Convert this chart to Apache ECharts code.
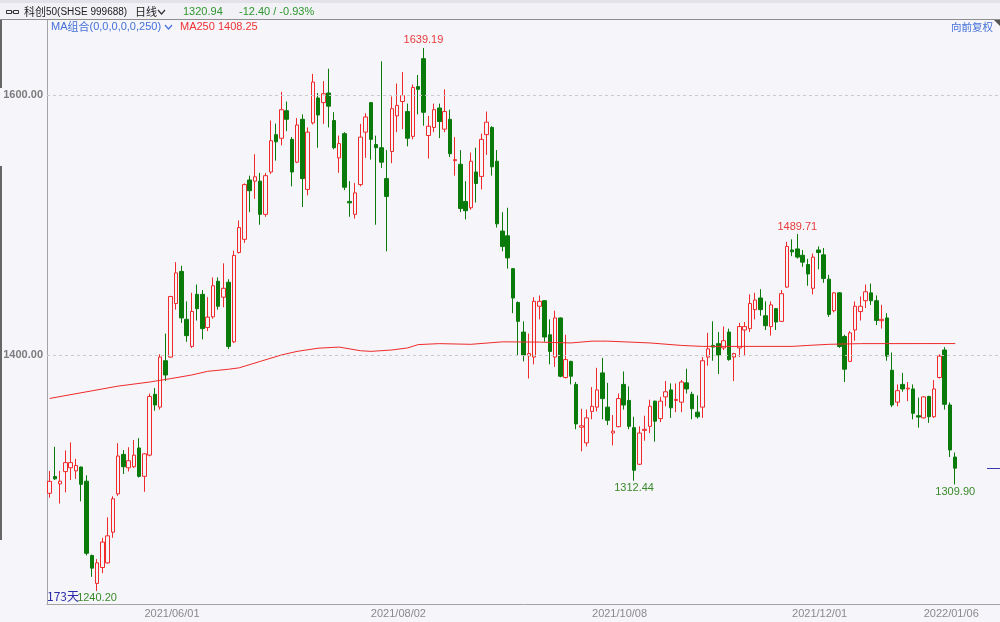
<!DOCTYPE html>
<html>
<head>
<meta charset="utf-8">
<title>科创50 日线</title>
<script src="https://cdn.jsdelivr.net/npm/echarts@6/dist/echarts.min.js"></script>
<style>
  html, body { margin: 0; padding: 0; background: #f5f5fa; }
  #chart { width: 1000px; height: 622px; }
</style>
</head>
<body>
<div id="chart"></div>
<script>
// trading days shown (173)
var dates = [
  '2021/04/23','2021/04/26','2021/04/27','2021/04/28','2021/04/29','2021/04/30',
  '2021/05/06','2021/05/07','2021/05/10','2021/05/11','2021/05/12','2021/05/13','2021/05/14',
  '2021/05/17','2021/05/18','2021/05/19','2021/05/20','2021/05/21','2021/05/24','2021/05/25',
  '2021/05/26','2021/05/27','2021/05/28','2021/05/31',
  '2021/06/01','2021/06/02','2021/06/03','2021/06/04','2021/06/07','2021/06/08','2021/06/09',
  '2021/06/10','2021/06/11','2021/06/15','2021/06/16','2021/06/17','2021/06/18','2021/06/21',
  '2021/06/22','2021/06/23','2021/06/24','2021/06/25','2021/06/28','2021/06/29','2021/06/30',
  '2021/07/01','2021/07/02','2021/07/05','2021/07/06','2021/07/07','2021/07/08','2021/07/09',
  '2021/07/12','2021/07/13','2021/07/14','2021/07/15','2021/07/16','2021/07/19','2021/07/20',
  '2021/07/21','2021/07/22','2021/07/23','2021/07/26','2021/07/27','2021/07/28','2021/07/29',
  '2021/07/30',
  '2021/08/02','2021/08/03','2021/08/04','2021/08/05','2021/08/06','2021/08/09','2021/08/10',
  '2021/08/11','2021/08/12','2021/08/13','2021/08/16','2021/08/17','2021/08/18','2021/08/19',
  '2021/08/20','2021/08/23','2021/08/24','2021/08/25','2021/08/26','2021/08/27','2021/08/30',
  '2021/08/31',
  '2021/09/01','2021/09/02','2021/09/03','2021/09/06','2021/09/07','2021/09/08','2021/09/09',
  '2021/09/10','2021/09/13','2021/09/14','2021/09/15','2021/09/16','2021/09/17','2021/09/22',
  '2021/09/23','2021/09/24','2021/09/27','2021/09/28','2021/09/29','2021/09/30',
  '2021/10/08','2021/10/11','2021/10/12','2021/10/13','2021/10/14','2021/10/15','2021/10/18',
  '2021/10/19','2021/10/20','2021/10/21','2021/10/22','2021/10/25','2021/10/26','2021/10/27',
  '2021/10/28','2021/10/29',
  '2021/11/01','2021/11/02','2021/11/03','2021/11/04','2021/11/05','2021/11/08','2021/11/09',
  '2021/11/10','2021/11/11','2021/11/12','2021/11/15','2021/11/16','2021/11/17','2021/11/18',
  '2021/11/19','2021/11/22','2021/11/23','2021/11/24','2021/11/25','2021/11/26','2021/11/29',
  '2021/11/30',
  '2021/12/01','2021/12/02','2021/12/03','2021/12/06','2021/12/07','2021/12/08','2021/12/09',
  '2021/12/10','2021/12/13','2021/12/14','2021/12/15','2021/12/16','2021/12/17','2021/12/20',
  '2021/12/21','2021/12/22','2021/12/23','2021/12/24','2021/12/27','2021/12/28','2021/12/29',
  '2021/12/30','2021/12/31',
  '2022/01/04','2022/01/05','2022/01/06'
];

// [open, close, low, high]
var kline = [
  [1304.0,1312.0,1301.0,1319.0],[1315.3,1313.7,1313.0,1335.5],[1310.3,1312.1,1297.1,1319.1],
  [1318.6,1324.7,1304.6,1333.0],[1321.2,1324.7,1312.9,1338.6],[1319.1,1322.7,1313.7,1327.3],
  [1321.7,1310.0,1298.6,1322.0],[1312.1,1264.4,1263.0,1316.1],[1263.0,1254.8,1249.2,1263.5],
  [1245.0,1258.2,1240.2,1260.6],[1255.2,1271.7,1251.6,1274.5],[1258.2,1275.8,1257.7,1288.0],
  [1278.2,1300.3,1274.5,1302.0],[1303.6,1329.2,1302.3,1338.0],[1330.3,1321.9,1317.0,1333.3],
  [1321.2,1326.0,1318.7,1335.2],[1321.9,1329.8,1321.0,1340.2],[1334.7,1315.4,1314.6,1341.4],
  [1315.4,1330.7,1305.0,1331.2],[1329.8,1370.5,1329.0,1372.5],[1372.0,1364.5,1360.5,1376.4],
  [1363.0,1398.5,1361.3,1400.5],[1395.9,1385.7,1381.4,1415.5],[1398.5,1442.7,1398.0,1443.2],
  [1437.5,1460.3,1433.0,1468.4],[1461.4,1426.9,1423.3,1465.7],[1425.9,1414.0,1409.5,1439.1],
  [1406.2,1431.7,1405.1,1445.4],[1444.3,1433.7,1425.0,1451.6],[1444.3,1419.1,1411.3,1447.5],
  [1419.9,1427.5,1417.3,1442.2],[1427.7,1450.7,1426.4,1456.9],[1454.0,1435.5,1433.0,1456.9],
  [1442.2,1448.8,1434.8,1467.5],[1453.3,1406.2,1404.4,1455.6],[1409.5,1473.5,1408.7,1477.1],
  [1475.7,1494.7,1474.9,1500.2],[1485.7,1528.1,1483.0,1529.0],[1531.7,1523.3,1506.6,1535.1],
  [1530.8,1534.2,1516.9,1552.1],[1530.8,1504.9,1496.9,1537.3],[1504.9,1535.1,1503.0,1537.3],
  [1538.0,1562.9,1536.5,1579.2],[1567.8,1562.0,1547.0,1576.7],[1564.9,1588.0,1559.2,1602.6],
  [1587.2,1580.2,1570.6,1594.7],[1564.0,1538.0,1526.7,1565.8],[1545.8,1575.6,1545.0,1581.2],
  [1580.2,1532.8,1510.6,1584.2],[1524.3,1569.8,1519.6,1573.6],[1577.3,1610.7,1576.0,1617.5],
  [1597.6,1583.7,1557.3,1601.7],[1593.8,1601.1,1576.5,1611.5],[1601.7,1590.9,1573.6,1621.8],
  [1579.2,1557.3,1556.0,1586.0],[1549.2,1560.6,1537.3,1567.0],[1568.6,1526.0,1523.8,1569.8],
  [1514.9,1513.8,1503.0,1530.8],[1504.9,1521.6,1501.6,1529.4],[1528.1,1565.8,1526.7,1576.5],
  [1569.8,1582.1,1549.2,1585.1],[1593.8,1564.0,1547.8,1594.0],[1559.8,1557.3,1496.9,1567.0],
  [1557.3,1545.8,1541.2,1628.0],[1532.8,1518.8,1476.6,1555.4],[1554.3,1588.8,1545.0,1598.8],
  [1583.0,1591.5,1569.8,1609.5],[1594.7,1599.6,1572.2,1619.0],[1586.5,1564.9,1558.4,1593.0],
  [1566.4,1606.2,1564.0,1608.7],[1607.0,1604.7,1584.2,1616.6],[1630.2,1585.9,1575.0,1639.19],
  [1567.1,1574.6,1548.6,1583.0],[1573.6,1588.0,1569.8,1593.0],[1589.4,1578.4,1565.0,1593.0],
  [1572.2,1586.5,1569.8,1604.7],[1580.2,1552.5,1549.8,1588.0],[1547.0,1547.8,1535.1,1565.8],
  [1544.1,1509.4,1506.6,1555.4],[1514.9,1507.7,1501.0,1530.8],[1510.0,1546.5,1508.5,1553.4],
  [1538.0,1528.9,1514.1,1557.3],[1534.5,1564.0,1524.3,1568.6],[1567.8,1577.9,1551.5,1586.5],
  [1573.6,1542.1,1535.1,1574.6],[1546.5,1497.6,1494.7,1555.4],[1492.0,1480.3,1476.6,1506.6],
  [1488.4,1471.6,1463.5,1510.0],[1463.5,1441.6,1430.4,1464.0],[1438.3,1424.4,1400.0,1439.0],
  [1416.6,1400.0,1395.4,1424.4],[1399.5,1401.0,1383.2,1415.5],[1398.5,1439.1,1393.3,1442.2],
  [1435.5,1439.1,1425.9,1443.5],[1439.6,1413.0,1409.5,1440.1],[1414.6,1402.6,1393.3,1425.9],
  [1398.5,1426.9,1391.5,1432.2],[1426.9,1384.8,1384.0,1427.3],[1383.9,1396.7,1383.2,1414.6],
  [1395.4,1384.8,1379.0,1395.9],[1379.0,1351.3,1347.6,1380.7],[1349.0,1350.0,1332.4,1361.8],
  [1338.2,1355.5,1335.8,1361.3],[1360.0,1363.6,1354.5,1377.1],[1363.0,1375.1,1360.0,1390.8],
  [1387.2,1369.0,1354.5,1397.9],[1363.0,1353.8,1350.5,1380.1],[1345.0,1346.3,1336.5,1357.5],
  [1349.4,1369.0,1349.0,1372.6],[1379.0,1364.5,1361.3,1388.2],[1367.7,1349.6,1347.6,1377.6],
  [1348.7,1319.5,1312.44,1356.3],[1323.6,1345.0,1323.1,1349.6],[1346.8,1347.6,1339.7,1357.0],
  [1349.6,1363.6,1345.0,1368.2],[1367.2,1353.2,1339.0,1367.5],[1355.0,1367.2,1352.5,1370.2],
  [1370.2,1373.8,1363.6,1381.4],[1375.1,1362.5,1355.5,1379.7],[1367.7,1368.4,1359.5,1379.7],
  [1366.5,1380.7,1359.5,1382.1],[1380.1,1375.8,1372.6,1390.2],[1372.0,1361.9,1354.5,1373.8],
  [1359.5,1356.3,1355.0,1371.2],[1363.0,1395.9,1355.5,1398.5],[1398.5,1404.4,1392.3,1416.0],
  [1406.9,1405.7,1395.9,1424.4],[1408.2,1400.0,1386.4,1416.6],[1405.1,1410.3,1403.6,1420.6],
  [1416.6,1396.7,1395.9,1419.1],[1398.5,1401.0,1381.4,1401.5],[1405.1,1420.6,1398.5,1423.3],
  [1418.1,1420.6,1399.2,1423.9],[1419.1,1437.5,1416.6,1444.3],[1433.0,1440.1,1425.9,1445.4],
  [1441.6,1433.0,1428.5,1448.1],[1428.5,1421.2,1418.1,1439.1],[1420.6,1436.5,1414.0,1439.1],
  [1433.7,1423.9,1418.1,1434.2],[1424.4,1444.8,1423.9,1447.5],[1449.7,1480.3,1449.0,1483.8],
  [1477.6,1476.2,1472.9,1485.7],[1478.4,1472.2,1471.1,1489.71],[1473.6,1468.4,1464.9,1477.6],
  [1466.6,1459.5,1450.7,1470.9],[1448.8,1472.2,1444.3,1474.9],[1477.6,1475.7,1463.0,1480.3],
  [1473.9,1456.2,1452.9,1479.1],[1455.6,1429.5,1427.7,1458.8],[1432.2,1445.4,1431.0,1446.0],
  [1445.4,1406.2,1405.1,1446.0],[1413.4,1389.8,1380.7,1414.6],[1395.4,1416.0,1394.9,1417.3],
  [1418.1,1435.5,1410.3,1439.1],[1431.6,1435.5,1425.0,1442.7],[1439.6,1446.2,1434.2,1451.6],
  [1445.4,1439.6,1436.5,1452.3],[1439.6,1425.1,1421.7,1443.5],[1424.9,1425.9,1419.1,1436.5],
  [1426.9,1399.2,1395.9,1430.4],[1389.1,1364.5,1363.0,1401.8],[1366.5,1374.6,1363.6,1379.0],
  [1379.0,1375.8,1373.8,1387.2],[1375.8,1376.4,1367.2,1380.7],[1375.8,1358.7,1354.5,1379.0],
  [1357.0,1356.1,1348.7,1369.7],[1355.5,1370.2,1355.0,1370.5],[1370.5,1356.3,1352.0,1371.0],
  [1356.3,1375.8,1355.5,1382.1],[1383.9,1399.2,1383.2,1400.5],[1403.6,1365.0,1361.3,1405.7],
  [1364.5,1333.34,1328.5,1366.3],[1328.5,1320.94,1309.9,1331.6]
];

// MA250 read at sample days: [day index, value]
var ma250 = [
  [0,1369.1],[13,1377.8],[19,1380.7],[23,1383.1],[27,1385.7],[30,1388.3],[34,1389.8],
  [36,1390.8],[40,1395.4],[44,1400.0],[47,1402.6],[51,1404.9],[55,1405.7],[59,1403.1],
  [61,1402.6],[65,1403.6],[68,1405.1],[70,1407.5],[74,1408.2],[80,1407.7],[86,1409.5],
  [93,1409.3],[99,1408.7],[103,1410.0],[106,1410.0],[114,1408.7],[120,1406.9],[124,1406.2],
  [131,1406.2],[141,1406.2],[144,1406.9],[148,1407.7],[154,1408.2],[172,1408.25]
];

var yTicks = [1400, 1600];
var labelDates = ['2021/06/01', '2021/08/02', '2021/10/08', '2021/12/01', '2022/01/06'];
var peakDays = [71, 142];
var troughDays = [9, 111, 172];

var RED = '#f02a2a', GREEN = '#0a7a0a', BLUE = '#4470d8';

var myChart = echarts.init(document.getElementById('chart'));

var marks = [];
peakDays.forEach(function(i) {
  marks.push({ coord: [i, kline[i][3]], value: kline[i][3],
    label: { position: 'top', distance: 2, color: '#e83a3a' } });
});
troughDays.forEach(function(i) {
  marks.push({ coord: [i, kline[i][2]], value: kline[i][2],
    label: { position: 'bottom', distance: 2, color: '#3a8a2a' } });
});

option = {
  animation: false,
  backgroundColor: '#f5f5fa',
  grid: { left: 47, right: 0, top: 20, bottom: 18 },
  xAxis: {
    type: 'category',
    data: dates,
    max: 180,
    boundaryGap: true,
    axisLine: { lineStyle: { color: '#a4a4a4' } },
    axisTick: {
      inside: true, length: 8,
      interval: function(idx, val) { return val === labelDates[labelDates.length - 1]; },
      lineStyle: { color: '#8c8c8c' }
    },
    axisLabel: {
      interval: function(idx, val) { return labelDates.indexOf(val) >= 0; },
      color: '#8a8a8a', fontSize: 11, margin: 4, fontFamily: 'Liberation Sans',
      padding: [0, 8, 0, 0]
    },
    splitLine: { show: false }
  },
  yAxis: {
    type: 'log',
    min: 1231.9,
    max: 1662.9,
    axisLine: { show: true, lineStyle: { color: '#a4a4a4' } },
    axisTick: { show: false },
    axisLabel: { show: false },
    splitLine: { show: false }
  },
  series: [{
    type: 'candlestick',
    data: kline,
    barWidth: 4,
    silent: true,
    itemStyle: {
      color: 'rgba(0,0,0,0)',
      color0: GREEN,
      borderColor: RED,
      borderColor0: GREEN,
      borderWidth: 1
    },
    markLine: {
      silent: true,
      symbol: ['none', 'none'],
      lineStyle: { type: [3, 3], color: '#cacaca', width: 1 },
      label: {
        position: 'start',
        distance: 4,
        color: '#7c7c7c',
        fontSize: 11,
        fontWeight: 'bold',
        fontFamily: 'Liberation Sans',
        formatter: function(p) { return p.value.toFixed(2); }
      },
      data: yTicks.map(function(v) { return { yAxis: v }; })
    },
    markPoint: {
      silent: true,
      symbol: 'circle',
      symbolSize: 0,
      itemStyle: { color: 'rgba(0,0,0,0)' },
      label: {
        fontSize: 11,
        fontFamily: 'Liberation Sans',
        formatter: function(p) { return p.value.toFixed(2); }
      },
      data: marks
    }
  }, {
    type: 'line',
    data: ma250,
    symbol: 'none',
    silent: true,
    lineStyle: { color: RED, width: 1 }
  }]
};
myChart.setOption(option);

// header and overlay texts
var last = kline[kline.length - 1][1];
var prev = kline[kline.length - 2][1];
var chg = last - prev;
var pct = chg / prev * 100;
var lastPx = myChart.convertToPixel({ xAxisIndex: 0, yAxisIndex: 0 }, [kline.length - 1, last]);

var cjk = '"Noto Sans CJK SC"';
var lat = '"Liberation Sans"';
function txt(x, y, s, color, font) {
  return { type: 'text', silent: true, style: { x: x, y: y, text: s, fill: color, font: font, verticalAlign: 'middle' } };
}
function rich(x, y, s, color, asciiSize) {
  return { type: 'text', silent: true, style: {
    x: x, y: y, text: s, fill: color, verticalAlign: 'middle',
    rich: {
      c: { fontFamily: 'Noto Sans CJK SC', fontSize: 11, fill: color },
      a: { fontFamily: 'Liberation Sans', fontSize: asciiSize, fill: color }
    }
  } };
}
myChart.setOption({
  graphic: [
    { type: 'rect', silent: true, shape: { x: 0, y: 0, width: 1000, height: 19 }, style: { fill: '#f1f1f6' } },
    { type: 'rect', silent: true, shape: { x: 0, y: 0, width: 1000, height: 3 }, style: { fill: '#e2e2e8' } },
    { type: 'line', silent: true, shape: { x1: 0, y1: 19.5, x2: 1000, y2: 19.5 }, style: { stroke: '#8e8e8e', lineWidth: 1 } },
    { type: 'rect', silent: true, shape: { x: 0, y: 20, width: 2, height: 68 }, style: { fill: '#666' } },
    { type: 'rect', silent: true, shape: { x: 0, y: 166, width: 2, height: 374 }, style: { fill: '#666' } },
    // icon
    { type: 'rect', silent: true, shape: { x: 6.5, y: 10.5, width: 5, height: 3 }, style: { fill: 'none', stroke: '#333', lineWidth: 1 } },
    { type: 'rect', silent: true, shape: { x: 13.5, y: 10.5, width: 5, height: 3 }, style: { fill: 'none', stroke: '#333', lineWidth: 1 } },
    { type: 'line', silent: true, shape: { x1: 11.5, y1: 12, x2: 13.5, y2: 12 }, style: { stroke: '#333', lineWidth: 1 } },
    rich(24, 12, '{c|科创}{a|50(SHSE 999688)}', '#222', 10),
    txt(135, 12, '日线', '#222', '11px ' + cjk),
    { type: 'polyline', silent: true, shape: { points: [[158, 10], [161.5, 14], [165, 10]] }, style: { stroke: '#333', lineWidth: 1.2, fill: 'none' } },
    txt(183, 12, last.toFixed(2), '#2e962e', '11px ' + lat),
    txt(239, 12, chg.toFixed(2) + ' / ' + pct.toFixed(2) + '%', '#2e962e', '11px ' + lat),
    rich(51, 27, '{a|MA}{c|组合}{a|(0,0,0,0,0,250)}', BLUE, 11),
    { type: 'polyline', silent: true, shape: { points: [[165, 25], [168.5, 29], [172, 25]] }, style: { stroke: BLUE, lineWidth: 1.2, fill: 'none' } },
    txt(180, 27, 'MA250 ' + ma250[ma250.length - 1][1].toFixed(2), '#ee3333', '11px ' + lat),
    txt(951, 27, '向前复权', BLUE, '10.5px ' + cjk),
    { type: 'polygon', silent: true, shape: { points: [[994, 20], [1000, 20], [1000, 26]] }, style: { fill: '#555' } },
    txt(47, 596, dates.length + '天', '#2a2aa8', '12px ' + cjk),
    { type: 'line', silent: true, shape: { x1: 987, y1: Math.round(lastPx[1]) + 0.5, x2: 1000, y2: Math.round(lastPx[1]) + 0.5 }, style: { stroke: '#3a3ab0', lineWidth: 1 } }
  ]
});
</script>
</body>
</html>
